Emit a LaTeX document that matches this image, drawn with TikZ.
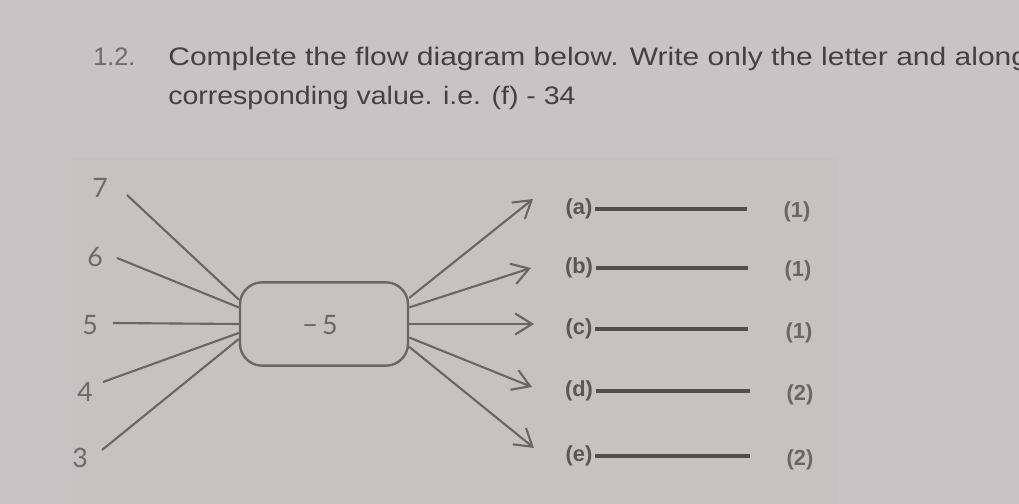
\documentclass[tikz,border=0pt]{standalone}
\usepackage{fontspec}
\setmainfont{Liberation Sans}
\newfontfamily\digitfont{Lato}
\usetikzlibrary{arrows.meta}
\definecolor{paper}{HTML}{CAC2C4}
\definecolor{panel}{HTML}{C7C1C2}
\definecolor{ink}{HTML}{454042}
\definecolor{pencil}{HTML}{6A6567}
\definecolor{soft}{HTML}{6E696B}
\definecolor{marks}{HTML}{5A5557}
\begin{document}
\begin{tikzpicture}[x=0.025cm,y=-0.025cm,
  flowline/.style={draw=pencil,line width=1.5pt},
  outarrow/.style={flowline,-{Straight Barb[length=12pt,width=15pt]}},
  numlabel/.style={text=soft,font=\digitfont\fontsize{19}{19}\selectfont,inner sep=0pt},
  letterlabel/.style={text=marks,font=\bfseries\fontsize{15.5}{15.5}\selectfont,inner sep=0pt},
  markslabel/.style={text=marks!85!paper,font=\bfseries\fontsize{15.5}{15.5}\selectfont,inner sep=0pt},
  answerline/.style={draw=ink!90!paper,line width=2.8pt},
  opbox/.style={draw=pencil,line width=1.7pt,rounded corners=0.55cm,minimum width=4.2cm,minimum height=2.08cm,inner sep=0pt},
  titletext/.style={text=ink,font=\fontsize{18}{18}\selectfont,inner sep=0pt,anchor=base west}
]
\useasboundingbox (0,0) rectangle (1019,504);
\clip (0,0) rectangle (1019,504);
\fill[paper] (0,0) rectangle (1019,504);
\fill[panel] (72,158) rectangle (838,504);

% title
\node[titletext,text=soft] (qnum) at (93,66) {1.2.};
\node[titletext,xscale=1.186] (q1) at (168,66) {Complete the flow diagram below. Write only the letter and along};
\node[titletext,xscale=1.125] (q2) at (168,105) {corresponding value. i.e. (f) - 34};

% central box
\node[opbox] (box) at (324,324) {};
\node[text=pencil,font=\digitfont\fontsize{19}{19}\selectfont,inner sep=0pt] (op) at (320,325) {−\,5};

% inputs
\node[numlabel] (n7) at (100,188) {7};
\node[numlabel] (n6) at (95,257) {6};
\node[numlabel] (n5) at (90,325) {5};
\node[numlabel] (n4) at (85,392) {4};
\node[numlabel] (n3) at (80,458) {3};
\coordinate (s7) at (127,195);
\coordinate (s6) at (117,258);
\coordinate (s5) at (113,323);
\coordinate (s4) at (103,382);
\coordinate (s3) at (102,450);
\draw[flowline] (s7) -- (box.164);
\draw[flowline] (s6) -- (box.169);
\draw[flowline] (s5) -- (box.180);
\draw[flowline] (s4) -- (box.186);
\draw[flowline] (s3) -- (box.190);

% outputs
\coordinate (t1) at (533,199);
\coordinate (t2) at (531,268);
\coordinate (t3) at (534,324);
\coordinate (t4) at (532,387);
\coordinate (t5) at (534,448);
\draw[outarrow] (box.17) -- (t1);
\draw[outarrow] (box.11) -- (t2);
\draw[outarrow] (box.0) -- (t3);
\draw[outarrow] (box.351) -- (t4);
\draw[outarrow] (box.345) -- (t5);

% answer labels
\node[letterlabel] (la) at (579,209) {(a)};
\node[letterlabel] (lb) at (579,268) {(b)};
\node[letterlabel] (lc) at (579,329) {(c)};
\node[letterlabel] (ld) at (579,391) {(d)};
\node[letterlabel] (le) at (579,456) {(e)};
\coordinate (ea) at (747,209);
\coordinate (eb) at (748,268);
\coordinate (ec) at (748,329);
\coordinate (ed) at (750,391);
\coordinate (ee) at (750,456);
\draw[answerline] ([xshift=2pt]la.east) -- (ea);
\draw[answerline] ([xshift=2pt]lb.east) -- (eb);
\draw[answerline] ([xshift=2pt]lc.east) -- (ec);
\draw[answerline] ([xshift=2pt]ld.east) -- (ed);
\draw[answerline] ([xshift=2pt]le.east) -- (ee);
\node[markslabel] (ma) at (797,212) {(1)};
\node[markslabel] (mb) at (798,271) {(1)};
\node[markslabel] (mc) at (799,333) {(1)};
\node[markslabel] (md) at (800,395) {(2)};
\node[markslabel] (me) at (800,460) {(2)};
\end{tikzpicture}
\end{document}
